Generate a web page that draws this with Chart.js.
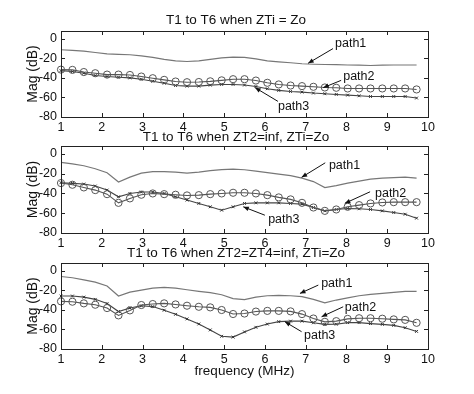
<!DOCTYPE html>
<html>
<head>
<meta charset="utf-8">
<script src="https://cdn.jsdelivr.net/npm/chart.js"></script>
<style>
  html, body { margin: 0; padding: 0; background: #fff; }
  #wrap { position: relative; width: 474px; height: 394px; }
  #wrap canvas { position: absolute; left: 0; top: 0; }
</style>
</head>
<body>
<div id="wrap">
  <canvas id="c1" width="474" height="394"></canvas>
  <canvas id="c2" width="474" height="394"></canvas>
  <canvas id="c3" width="474" height="394"></canvas>
</div>
<script>
// frequency points (MHz), shared by all three panels
const freq = [1, 1.28, 1.56, 1.84, 2.13, 2.41, 2.69, 2.97, 3.25, 3.53, 3.81, 4.09, 4.38, 4.66, 4.94, 5.22,
              5.5, 5.78, 6.06, 6.34, 6.63, 6.91, 7.19, 7.47, 7.75, 8.03, 8.31, 8.59, 8.88, 9.16, 9.44, 9.72];

const xTicks = [1, 2, 3, 4, 5, 6, 7, 8, 9, 10];
const yTicks = [0, -20, -40, -60, -80];

const titles = [
    'T1 to T6 when ZTi = Zo',
    'T1 to T6 when ZT2=inf, ZTi=Zo',
    'T1 to T6 when ZT2=ZT4=inf, ZTi=Zo'
];

// panel 1 : ZTi = Zo
const p1Path1 = [-11.2, -11.8, -12.5, -14, -15.5, -16, -16.3, -17.5, -19, -21, -22.5, -23.2, -22.5, -21, -19.5, -18.8,
                 -19, -20.5, -22.5, -23.5, -24.5, -25.5, -26, -26.3, -26.5, -26.8, -27, -27.3, -27, -26.8, -26.8, -26.8];
const p1Path2 = [-31.5, -31.8, -34, -35.2, -36.6, -36.6, -37, -38.6, -40.3, -42, -43.7, -44.4, -44.2, -43.5, -42.5, -41.3,
                 -41.3, -42.7, -45, -46.7, -47.8, -48.4, -49.1, -49.8, -50.1, -50.8, -50.8, -50.8, -50.8, -50.8, -50.8, -51.8];
const p1Path3 = [-32.5, -33.5, -35.2, -37.6, -38.6, -39.3, -40, -41.3, -43.4, -45.4, -47.8, -48.4, -48.4, -47.4, -46.7, -46.7,
                 -47.3, -48.8, -51.1, -52.8, -53.9, -54.5, -55.5, -56.2, -56.9, -57.6, -58.3, -59, -59, -59, -59, -60.6];

// panel 2 : ZT2 = inf
const p2Path1 = [-8.5, -10, -12, -15, -19, -28.5, -23.5, -19.5, -18, -18, -18.5, -19.5, -18.5, -17, -15.8, -15.3,
                 -16, -17.5, -19, -20.5, -22, -24.5, -28, -34, -32, -29.5, -27.5, -25.5, -24.5, -24, -23.5, -24.5];
const p2Path2 = [-29.5, -31.2, -33.9, -36.6, -40.7, -49.5, -45, -41.3, -40, -40.7, -41.3, -42, -41.7, -40.7, -40, -39.3,
                 -39.3, -40, -41.7, -44, -46, -49.5, -54.2, -57.6, -56.2, -53.5, -51.8, -50.1, -49.1, -48.8, -48.8, -48.8];
const p2Path3 = [-29.1, -29.8, -30.5, -32.5, -36.6, -43.4, -40, -38.6, -38.6, -40, -43.4, -46.7, -50.1, -53.5, -56.9, -53.5,
                 -50.1, -49.5, -49.5, -49.5, -50.1, -50.8, -54.2, -57.6, -56.2, -55.2, -55.5, -56.2, -57.6, -59.3, -61, -65];

// panel 3 : ZT2 = ZT4 = inf
const p3Path1 = [-5.8, -7.1, -9.2, -11.5, -15.5, -25.8, -21.8, -19.7, -17.7, -17, -17.7, -19.4, -21, -22.4, -24.5, -28.5,
                 -29.5, -27, -25.5, -25.2, -25.5, -26.5, -29.2, -32.7, -29.9, -27.6, -25.5, -24.1, -23.1, -22.1, -21, -21];
const p3Path2 = [-31.3, -31.6, -33.3, -34.7, -38.1, -45.6, -40.5, -35, -34, -33.3, -34.4, -35.7, -36.8, -37.4, -40.1, -44.2,
                 -43.7, -41.7, -41, -41, -41.5, -44.3, -48.8, -52.2, -51.5, -49.2, -48.5, -48.5, -49, -49.7, -50.2, -53.2];
const p3Path3 = [-25.8, -25.8, -26.9, -29.2, -33.5, -41.7, -38, -35.8, -36.6, -40.3, -44.5, -49.2, -54.4, -60.5, -67, -67.8,
                 -62.5, -57.8, -54.5, -52, -51.5, -51.5, -53.2, -54.8, -54.6, -53, -53, -54, -54.8, -55.8, -58.2, -62];

// arrow labels: text anchor, arrow tail, arrow head (data units)
const notes1 = [
    { text: 'path1', tx: 7.72, ty: -5,    x0: 7.67, y0: -10,  x1: 7.06, y1: -25 },
    { text: 'path2', tx: 7.92, ty: -38.6, x0: 7.87, y0: -42.5, x1: 7.43, y1: -50 },
    { text: 'path3', tx: 6.32, ty: -69.8, x0: 6.32, y0: -64,  x1: 5.76, y1: -50 }
];
const notes2 = [
    { text: 'path1', tx: 7.57, ty: -11.9, x0: 7.48, y0: -9,   x1: 6.9,  y1: -23.7 },
    { text: 'path2', tx: 8.7,  ty: -40,   x0: 8.58, y0: -38.3, x1: 7.96, y1: -50 },
    { text: 'path3', tx: 6.08, ty: -66.4, x0: 6.0,  y0: -62,  x1: 5.47, y1: -53.5 }
];
const notes3 = [
    { text: 'path1', tx: 7.38, ty: -12.9, x0: 7.31, y0: -14.6, x1: 6.86, y1: -23.1 },
    { text: 'path2', tx: 7.96, ty: -37.4, x0: 7.92, y0: -36.8, x1: 7.39, y1: -47 },
    { text: 'path3', tx: 6.96, ty: -66.7, x0: 6.9,  y0: -62.3, x1: 6.49, y1: -52.1 }
];

const FONT = 'Arial, "Liberation Sans", Helvetica, sans-serif';
const INK = '#111';

// box, inward ticks, title and arrow labels (matlab style)
const framePlugin = {
    id: 'frame',
    afterDraw(chart, args, opts) {
        const { ctx, chartArea: a, scales: { x, y } } = chart;
        ctx.save();
        ctx.strokeStyle = '#222';
        ctx.lineWidth = 1;
        ctx.strokeRect(Math.round(a.left) + 0.5, Math.round(a.top) + 0.5,
                       Math.round(a.right - a.left), Math.round(a.bottom - a.top));

        const tl = 4;
        ctx.beginPath();
        xTicks.forEach(v => {
            const px = Math.round(x.getPixelForValue(v)) + 0.5;
            ctx.moveTo(px, a.bottom); ctx.lineTo(px, a.bottom - tl);
            ctx.moveTo(px, a.top); ctx.lineTo(px, a.top + tl);
        });
        yTicks.forEach(v => {
            const py = Math.round(y.getPixelForValue(v)) + 0.5;
            ctx.moveTo(a.left, py); ctx.lineTo(a.left + tl, py);
            ctx.moveTo(a.right, py); ctx.lineTo(a.right - tl, py);
        });
        ctx.stroke();

        ctx.fillStyle = INK;
        ctx.textAlign = 'center';
        ctx.textBaseline = 'middle';
        ctx.font = '13.5px ' + FONT;
        ctx.fillText(opts.title, opts.titleX, opts.titleY);

        ctx.font = '12.5px ' + FONT;
        ctx.textAlign = 'left';
        ctx.strokeStyle = '#111';
        opts.notes.forEach(n => {
            ctx.fillText(n.text, x.getPixelForValue(n.tx), y.getPixelForValue(n.ty));
            const ax = x.getPixelForValue(n.x0), ay = y.getPixelForValue(n.y0);
            const bx = x.getPixelForValue(n.x1), by = y.getPixelForValue(n.y1);
            const ang = Math.atan2(by - ay, bx - ax);
            ctx.beginPath();
            ctx.moveTo(ax, ay);
            ctx.lineTo(bx, by);
            ctx.stroke();
            const hl = 6;
            ctx.beginPath();
            ctx.moveTo(bx, by);
            ctx.lineTo(bx - hl * Math.cos(ang - 0.4), by - hl * Math.sin(ang - 0.4));
            ctx.lineTo(bx - hl * Math.cos(ang + 0.4), by - hl * Math.sin(ang + 0.4));
            ctx.closePath();
            ctx.fill();
        });
        ctx.restore();
    }
};

function pts(values) {
    return freq.map((f, i) => ({ x: f, y: values[i] }));
}

function makePanel(id, title, titleY, series, notes, pad, xAxisHeight, withXLabel) {
    return new Chart(document.getElementById(id), {
        type: 'line',
        data: {
            datasets: [
                {
                    label: 'path1',
                    data: pts(series[0]),
                    borderColor: '#777',
                    borderWidth: 1.2,
                    pointRadius: 0,
                    tension: 0,
                    clip: false
                },
                {
                    label: 'path2',
                    data: pts(series[1]),
                    borderColor: '#555',
                    borderWidth: 1.1,
                    pointStyle: 'circle',
                    pointRadius: 3.6,
                    pointBorderWidth: 1,
                    pointBorderColor: '#555',
                    pointBackgroundColor: 'rgba(0,0,0,0)',
                    tension: 0,
                    clip: false
                },
                {
                    label: 'path3',
                    data: pts(series[2]),
                    borderColor: '#444',
                    borderWidth: 1.1,
                    pointStyle: 'crossRot',
                    pointRadius: 2,
                    pointBorderWidth: 1,
                    pointBorderColor: '#333',
                    tension: 0,
                    clip: false
                }
            ]
        },
        options: {
            responsive: false,
            animation: false,
            devicePixelRatio: 1,
            events: [],
            layout: {
                padding: { top: pad.top, bottom: pad.bottom, left: 0, right: 46 }
            },
            plugins: {
                legend: { display: false },
                tooltip: { enabled: false },
                title: { display: false },
                frame: { title: title, titleX: 236, titleY: titleY, notes: notes }
            },
            scales: {
                x: {
                    type: 'linear',
                    min: 1,
                    max: 10,
                    afterBuildTicks: scale => { scale.ticks = xTicks.map(v => ({ value: v })); },
                    afterFit: scale => { scale.height = xAxisHeight; },
                    grid: { display: false, drawTicks: false },
                    border: { display: false },
                    ticks: {
                        padding: 3,
                        maxRotation: 0,
                        autoSkip: false,
                        color: INK,
                        font: { family: FONT, size: 12.5 }
                    },
                    title: {
                        display: withXLabel,
                        text: 'frequency (MHz)',
                        color: INK,
                        font: { family: FONT, size: 13.5 },
                        padding: { top: 0, bottom: 0 }
                    }
                },
                y: {
                    min: -80,
                    max: 8,
                    afterBuildTicks: scale => { scale.ticks = yTicks.map(v => ({ value: v })); },
                    afterFit: scale => { scale.width = 61; },
                    grid: { display: false, drawTicks: false },
                    border: { display: false },
                    ticks: {
                        padding: 4,
                        color: INK,
                        font: { family: FONT, size: 12.5 }
                    },
                    title: {
                        display: true,
                        text: 'Mag (dB)',
                        color: INK,
                        font: { family: FONT, size: 14 },
                        padding: { top: 25, bottom: 0 }
                    }
                }
            }
        },
        plugins: [framePlugin]
    });
}

makePanel('c1', titles[0], 20, [p1Path1, p1Path2, p1Path3], notes1, { top: 31, bottom: 263 }, 14, false);
makePanel('c2', titles[1], 137.5, [p2Path1, p2Path2, p2Path3], notes2, { top: 146, bottom: 147 }, 14, false);
makePanel('c3', titles[2], 253, [p3Path1, p3Path2, p3Path3], notes3, { top: 263, bottom: 15 }, 30, true);
</script>
</body>
</html>
